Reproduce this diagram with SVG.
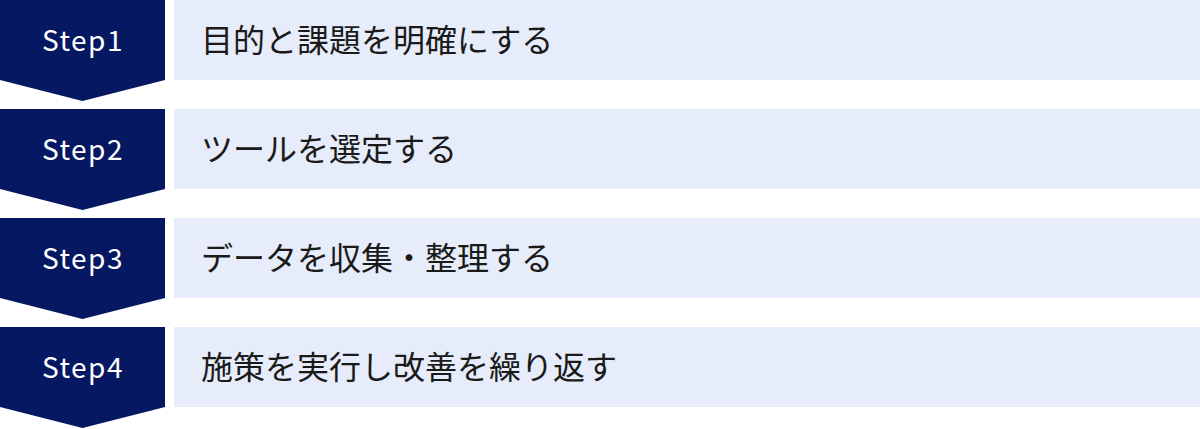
<svg xmlns="http://www.w3.org/2000/svg" width="1200" height="429" viewBox="0 0 1200 429">
<style>
.arrow{fill:#061862}
.box{fill:#E6ECF9}
.lbl{font-family:"Noto Sans CJK JP","Noto Sans",sans-serif;font-size:28px;fill:#ffffff;text-anchor:middle;letter-spacing:1.5px}
.txt{font-family:"Noto Sans CJK JP","Noto Sans",sans-serif;font-size:32px;fill:#1a1a1a}
</style>
<rect width="1200" height="429" fill="#ffffff"/>
<g id="step1">
<path class="arrow" d="M0 0H165V80L82.5 101L0 80Z"/>
<rect class="box" x="174" y="0" width="1026" height="80"/>
<text class="lbl" x="83" y="51">Step1</text>
<text class="txt" x="201" y="52">目的と課題を明確にする</text>
</g>
<g id="step2">
<path class="arrow" d="M0 109H165V189L82.5 210L0 189Z"/>
<rect class="box" x="174" y="109" width="1026" height="80"/>
<text class="lbl" x="83" y="160">Step2</text>
<text class="txt" x="201" y="161">ツールを選定する</text>
</g>
<g id="step3">
<path class="arrow" d="M0 218H165V298L82.5 319L0 298Z"/>
<rect class="box" x="174" y="218" width="1026" height="80"/>
<text class="lbl" x="83" y="269">Step3</text>
<text class="txt" x="201" y="270">データを収集・整理する</text>
</g>
<g id="step4">
<path class="arrow" d="M0 327H165V407L82.5 428L0 407Z"/>
<rect class="box" x="174" y="327" width="1026" height="80"/>
<text class="lbl" x="83" y="378">Step4</text>
<text class="txt" x="201" y="379">施策を実行し改善を繰り返す</text>
</g>
<g id="connectors"></g>
</svg>
